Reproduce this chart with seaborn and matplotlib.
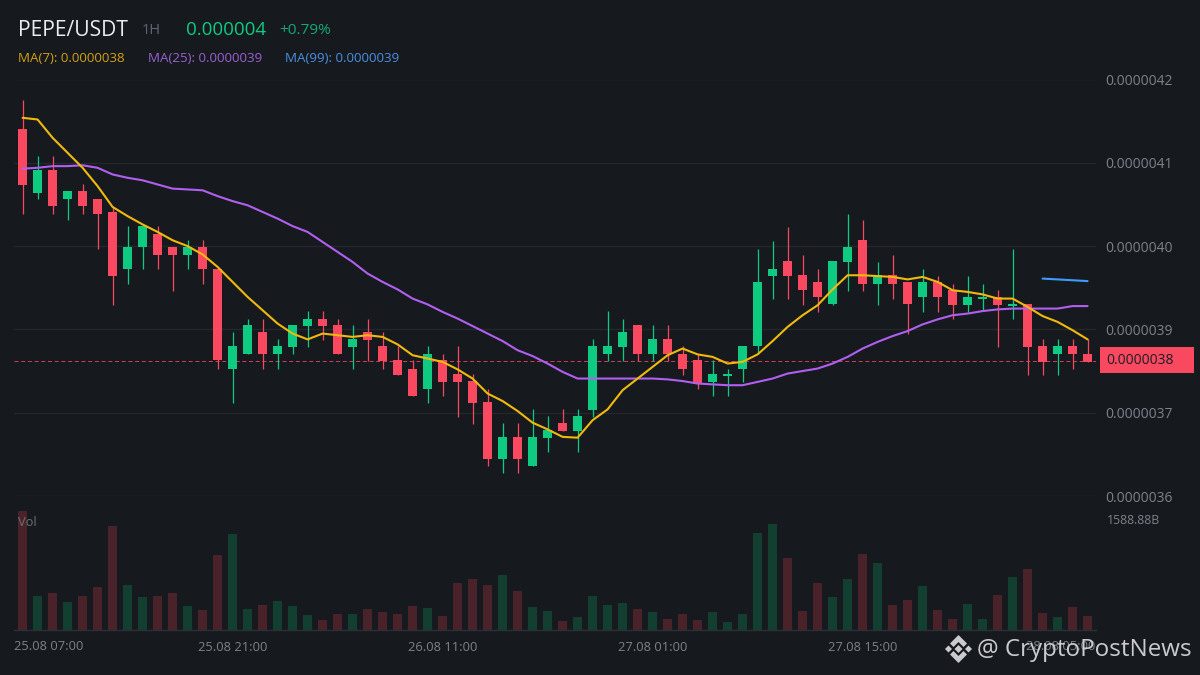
import numpy as np
import pandas as pd
import seaborn as sns
import matplotlib.pyplot as plt
from matplotlib.patches import Polygon, Rectangle

# prices, one grid line = 1 step above 36
open_ = [40.41, 39.64, 39.91, 39.56, 39.66, 39.57, 39.41, 38.72, 38.99, 39.15, 38.99, 38.89,
         38.99, 38.73, 37.53, 37.70, 37.97, 37.70, 37.79, 38.04, 38.13, 38.05, 37.79, 37.97,
         37.80, 37.63, 37.53, 37.28, 37.63, 37.46, 37.38, 37.13, 36.44, 36.71, 36.36, 36.70,
         36.88, 36.78, 37.03, 37.70, 37.79, 38.05, 37.70, 37.88, 37.71, 37.63, 37.37, 37.44,
         37.53, 37.80, 38.64, 38.82, 38.65, 38.57, 38.30, 38.81, 39.07, 38.55, 38.65, 38.57,
         38.39, 38.57, 38.47, 38.29, 38.36, 38.39, 38.28, 38.30, 37.80, 37.70, 37.80, 37.71]
close = [39.73, 39.91, 39.48, 39.66, 39.48, 39.39, 38.64, 38.99, 39.24, 38.89, 38.89, 38.99,
         38.72, 37.63, 37.80, 38.05, 37.70, 37.80, 38.05, 38.13, 38.04, 37.70, 37.88, 37.87,
         37.62, 37.45, 37.20, 37.71, 37.37, 37.37, 37.12, 36.44, 36.71, 36.44, 36.71, 36.79,
         36.78, 36.96, 37.80, 37.80, 37.97, 37.70, 37.88, 37.70, 37.53, 37.35, 37.46, 37.46,
         37.80, 38.57, 38.73, 38.64, 38.47, 38.39, 38.82, 38.99, 38.55, 38.65, 38.55, 38.30,
         38.57, 38.39, 38.29, 38.39, 38.39, 38.29, 38.30, 37.79, 37.61, 37.80, 37.70, 37.61]
high = [40.75, 40.08, 40.08, 39.66, 39.74, 39.57, 39.47, 39.24, 39.24, 39.24, 38.99, 39.07,
        39.07, 38.73, 37.97, 38.13, 38.13, 37.88, 38.05, 38.22, 38.22, 38.13, 38.05, 38.13,
        37.97, 37.80, 37.63, 37.80, 37.71, 37.80, 37.46, 37.29, 36.88, 36.88, 37.04, 36.96,
        37.04, 37.04, 37.88, 38.22, 38.13, 38.05, 38.05, 38.05, 37.80, 37.71, 37.63, 37.53,
        37.80, 38.97, 39.06, 39.23, 38.89, 38.72, 38.82, 39.39, 39.31, 38.81, 38.89, 38.57,
        38.72, 38.64, 38.55, 38.64, 38.55, 38.47, 38.97, 38.30, 37.88, 37.88, 37.88, 37.88]
low = [39.39, 39.56, 39.39, 39.31, 39.39, 38.97, 38.29, 38.55, 38.72, 38.72, 38.46, 38.72,
       38.55, 37.53, 37.12, 37.70, 37.53, 37.53, 37.70, 37.79, 37.87, 37.70, 37.53, 37.62,
       37.53, 37.45, 37.20, 37.12, 37.20, 36.95, 36.86, 36.36, 36.28, 36.28, 36.36, 36.53,
       36.78, 36.53, 36.95, 37.62, 37.62, 37.62, 37.62, 37.62, 37.45, 37.28, 37.20, 37.20,
       37.37, 37.71, 38.37, 38.37, 38.29, 38.21, 38.29, 38.46, 38.46, 38.29, 38.37, 37.95,
       38.21, 38.21, 38.12, 38.21, 38.22, 37.79, 38.12, 37.45, 37.45, 37.45, 37.53, 37.61]
ma7 = [40.54, 40.52, 40.30, 40.12, 39.94, 39.72, 39.47, 39.36, 39.26, 39.17, 39.07, 39.00,
       38.90, 38.75, 38.57, 38.39, 38.23, 38.07, 37.95, 37.88, 37.95, 37.93, 37.91, 37.93,
       37.91, 37.82, 37.69, 37.65, 37.61, 37.52, 37.41, 37.23, 37.14, 37.02, 36.88, 36.80,
       36.71, 36.70, 36.91, 37.04, 37.27, 37.41, 37.55, 37.69, 37.77, 37.70, 37.67, 37.59,
       37.61, 37.70, 37.86, 38.03, 38.17, 38.29, 38.48, 38.65, 38.65, 38.64, 38.63, 38.60,
       38.63, 38.57, 38.47, 38.45, 38.42, 38.37, 38.37, 38.27, 38.16, 38.09, 37.99, 37.88]
ma25 = [39.93, 39.94, 39.96, 39.96, 39.97, 39.94, 39.86, 39.82, 39.79, 39.74, 39.69, 39.68,
        39.67, 39.60, 39.54, 39.49, 39.41, 39.33, 39.24, 39.17, 39.05, 38.93, 38.81, 38.67,
        38.57, 38.48, 38.37, 38.30, 38.21, 38.13, 38.04, 37.95, 37.86, 37.75, 37.68, 37.59,
        37.49, 37.41, 37.41, 37.41, 37.41, 37.41, 37.41, 37.40, 37.38, 37.35, 37.34, 37.33,
        37.33, 37.37, 37.41, 37.47, 37.50, 37.53, 37.59, 37.67, 37.77, 37.85, 37.92, 37.98,
        38.06, 38.12, 38.17, 38.19, 38.22, 38.24, 38.25, 38.25, 38.25, 38.25, 38.28, 38.28]
ma99 = [38.61, 38.60, 38.59, 38.58]
volume = [1703, 491, 534, 404, 491, 620, 1486, 649, 476, 491, 534, 346, 289, 1068, 1371, 303,
          361, 418, 346, 216, 144, 231, 231, 303, 260, 231, 346, 317, 202, 678, 736, 649,
          794, 563, 332, 274, 130, 188, 491, 361, 390, 303, 260, 159, 231, 144, 260, 115,
          231, 1385, 1515, 1025, 274, 678, 476, 736, 1082, 952, 361, 433, 635, 289, 159,
          375, 159, 505, 765, 880, 245, 188, 332, 202]
# the axis labels are rounded, 38 never shows on a grid line
price_ticks = [36, 37, 38, 39, 40, 41]
price_labels = ["0.0000036", "0.0000037", "0.0000039", "0.0000040", "0.0000041", "0.0000042"]
last_price = 37.62
date_ticks = [14, 28, 42, 56]
date_labels = ["25.08 21:00", "26.08 11:00", "27.08 01:00", "27.08 15:00"]

BG = "#161a1e"
GREEN = "#0ecb81"
RED = "#f84960"
GRID = "#24282d"
GREY = "#7d828b"

sns.set_theme(style="dark", rc={"figure.facecolor": BG, "axes.facecolor": BG, "savefig.facecolor": BG})
plt.rcParams["font.family"] = ["Open Sans", "DejaVu Sans"]

df = pd.DataFrame({"i": range(len(open_)), "open": open_, "close": close, "high": high, "low": low,
                   "ma7": ma7, "ma25": ma25, "volume": volume})
df["up"] = df["close"] >= df["open"]
df["color"] = df["up"].map({True: GREEN, False: RED})

fig = plt.figure(figsize=(12, 6.75), dpi=100)
ax = fig.add_axes([14 / 1200, (675 - 496) / 675, 1082 / 1200, 416.5 / 675])
ax2 = fig.add_axes([14 / 1200, (675 - 630) / 675, 1082 / 1200, 119 / 675])
over = fig.add_axes([0, 0, 1, 1], facecolor="none")

# candles
ax.vlines(df["i"], df["low"], df["high"], colors=df["color"], linewidth=0.9, zorder=3)
ax.bar(df["i"], (df["close"] - df["open"]).abs(), bottom=df[["open", "close"]].min(axis=1),
       width=0.6, color=df["color"], linewidth=0, zorder=3)

sns.lineplot(data=df, x="i", y="ma25", color="#b15ff0", linewidth=1.5, errorbar=None, ax=ax, zorder=4)
sns.lineplot(data=df, x="i", y="ma7", color="#f0b90b", linewidth=1.5, errorbar=None, ax=ax, zorder=5)
sns.lineplot(x=df["i"].values[-len(ma99):], y=ma99, color="#3f9bff", linewidth=1.5, errorbar=None, ax=ax, zorder=4)

ax.axhline(last_price, color=RED, linewidth=0.72, dashes=(4, 2.7), alpha=0.8, zorder=2)

ax.set_xlim(-0.573, 71.56)
ax.set_ylim(36, 41)
ax.set_yticks(price_ticks, price_labels)
ax.yaxis.tick_right()
ax.tick_params(axis="y", length=0, pad=7, labelsize=10, labelcolor=GREY)
ax.set_xticks([])
ax.set_xlabel("")
ax.set_ylabel("")
ax.grid(axis="y", color=GRID, linewidth=1)
sns.despine(ax=ax, left=True, right=True, top=True, bottom=True)

# volume
sns.barplot(data=df, x="i", y="volume", hue="up", palette={True: "#123f2f", False: "#4a2229"},
            native_scale=True, dodge=False, width=0.6, saturation=1, legend=False, linewidth=0, ax=ax2)
ax2.set_xlim(-0.573, 71.56)
ax2.set_ylim(0, 1703)
ax2.set_yticks([])
ax2.set_xticks(date_ticks, date_labels)
ax2.tick_params(axis="x", length=0, pad=8, labelsize=9.3, labelcolor=GREY)
ax2.set_xlabel("")
ax2.set_ylabel("")
sns.despine(ax=ax2, left=True, right=True, top=True)
ax2.spines["bottom"].set_color("#2b2f36")
ax2.spines["bottom"].set_linewidth(1)

# text and watermark in pixel coordinates
over.set_xlim(0, 1200)
over.set_ylim(675, 0)
over.axis("off")
over.text(18, 30, "PEPE/USDT", color="#eaecef", fontsize=15.2, va="center")
over.text(142, 31, "1H", color="#5e6673", fontsize=10.5, va="center")
over.text(186, 30, "0.000004", color=GREEN, fontsize=13.5, va="center")
over.text(279, 31, "+0.79%", color="#14a874", fontsize=11.1, va="center")
over.text(18, 59, "MA(7): 0.0000038", color="#d3a013", fontsize=9.65, va="center")
over.text(148, 59, "MA(25): 0.0000039", color="#9a5fd2", fontsize=9.65, va="center")
over.text(285, 59, "MA(99): 0.0000039", color="#4a8fe0", fontsize=9.65, va="center")
over.text(18, 523, "Vol", color="#6a6f78", fontsize=9.3, va="center")
over.text(1107, 521, "1588.88B", color=GREY, fontsize=8.8, va="center")
over.text(14, 647, "25.08 07:00", color=GREY, fontsize=9.3, va="center")
over.text(1095, 647, "28.08 05:00", color=GREY, fontsize=9.3, va="center", ha="right")
over.add_patch(Rectangle((1100, 347), 94, 26, color=RED, linewidth=0))
over.text(1106, 361, "0.0000038", color="#1b1d22", fontsize=10, va="center")

WM = "#c9cbce"
cx, cy = 958.5, 649
over.add_patch(Polygon([(cx, cy - 4), (cx + 4, cy), (cx, cy + 4), (cx - 4, cy)], color=WM, linewidth=0))
over.add_patch(Polygon([(cx - 13.5, cy), (cx - 10, cy - 3.5), (cx - 6.5, cy), (cx - 10, cy + 3.5)], color=WM, linewidth=0))
over.add_patch(Polygon([(cx + 13.5, cy), (cx + 10, cy - 3.5), (cx + 6.5, cy), (cx + 10, cy + 3.5)], color=WM, linewidth=0))
over.add_patch(Polygon([(cx, cy - 14), (cx + 8.5, cy - 5.5), (cx + 5, cy - 2), (cx, cy - 7), (cx - 5, cy - 2), (cx - 8.5, cy - 5.5)], color=WM, linewidth=0))
over.add_patch(Polygon([(cx, cy + 14), (cx + 8.5, cy + 5.5), (cx + 5, cy + 2), (cx, cy + 7), (cx - 5, cy + 2), (cx - 8.5, cy + 5.5)], color=WM, linewidth=0))
over.text(977, 650, "@ CryptoPostNews", color=WM, fontsize=17.4, va="center")

fig.savefig("out.png", dpi=100)
